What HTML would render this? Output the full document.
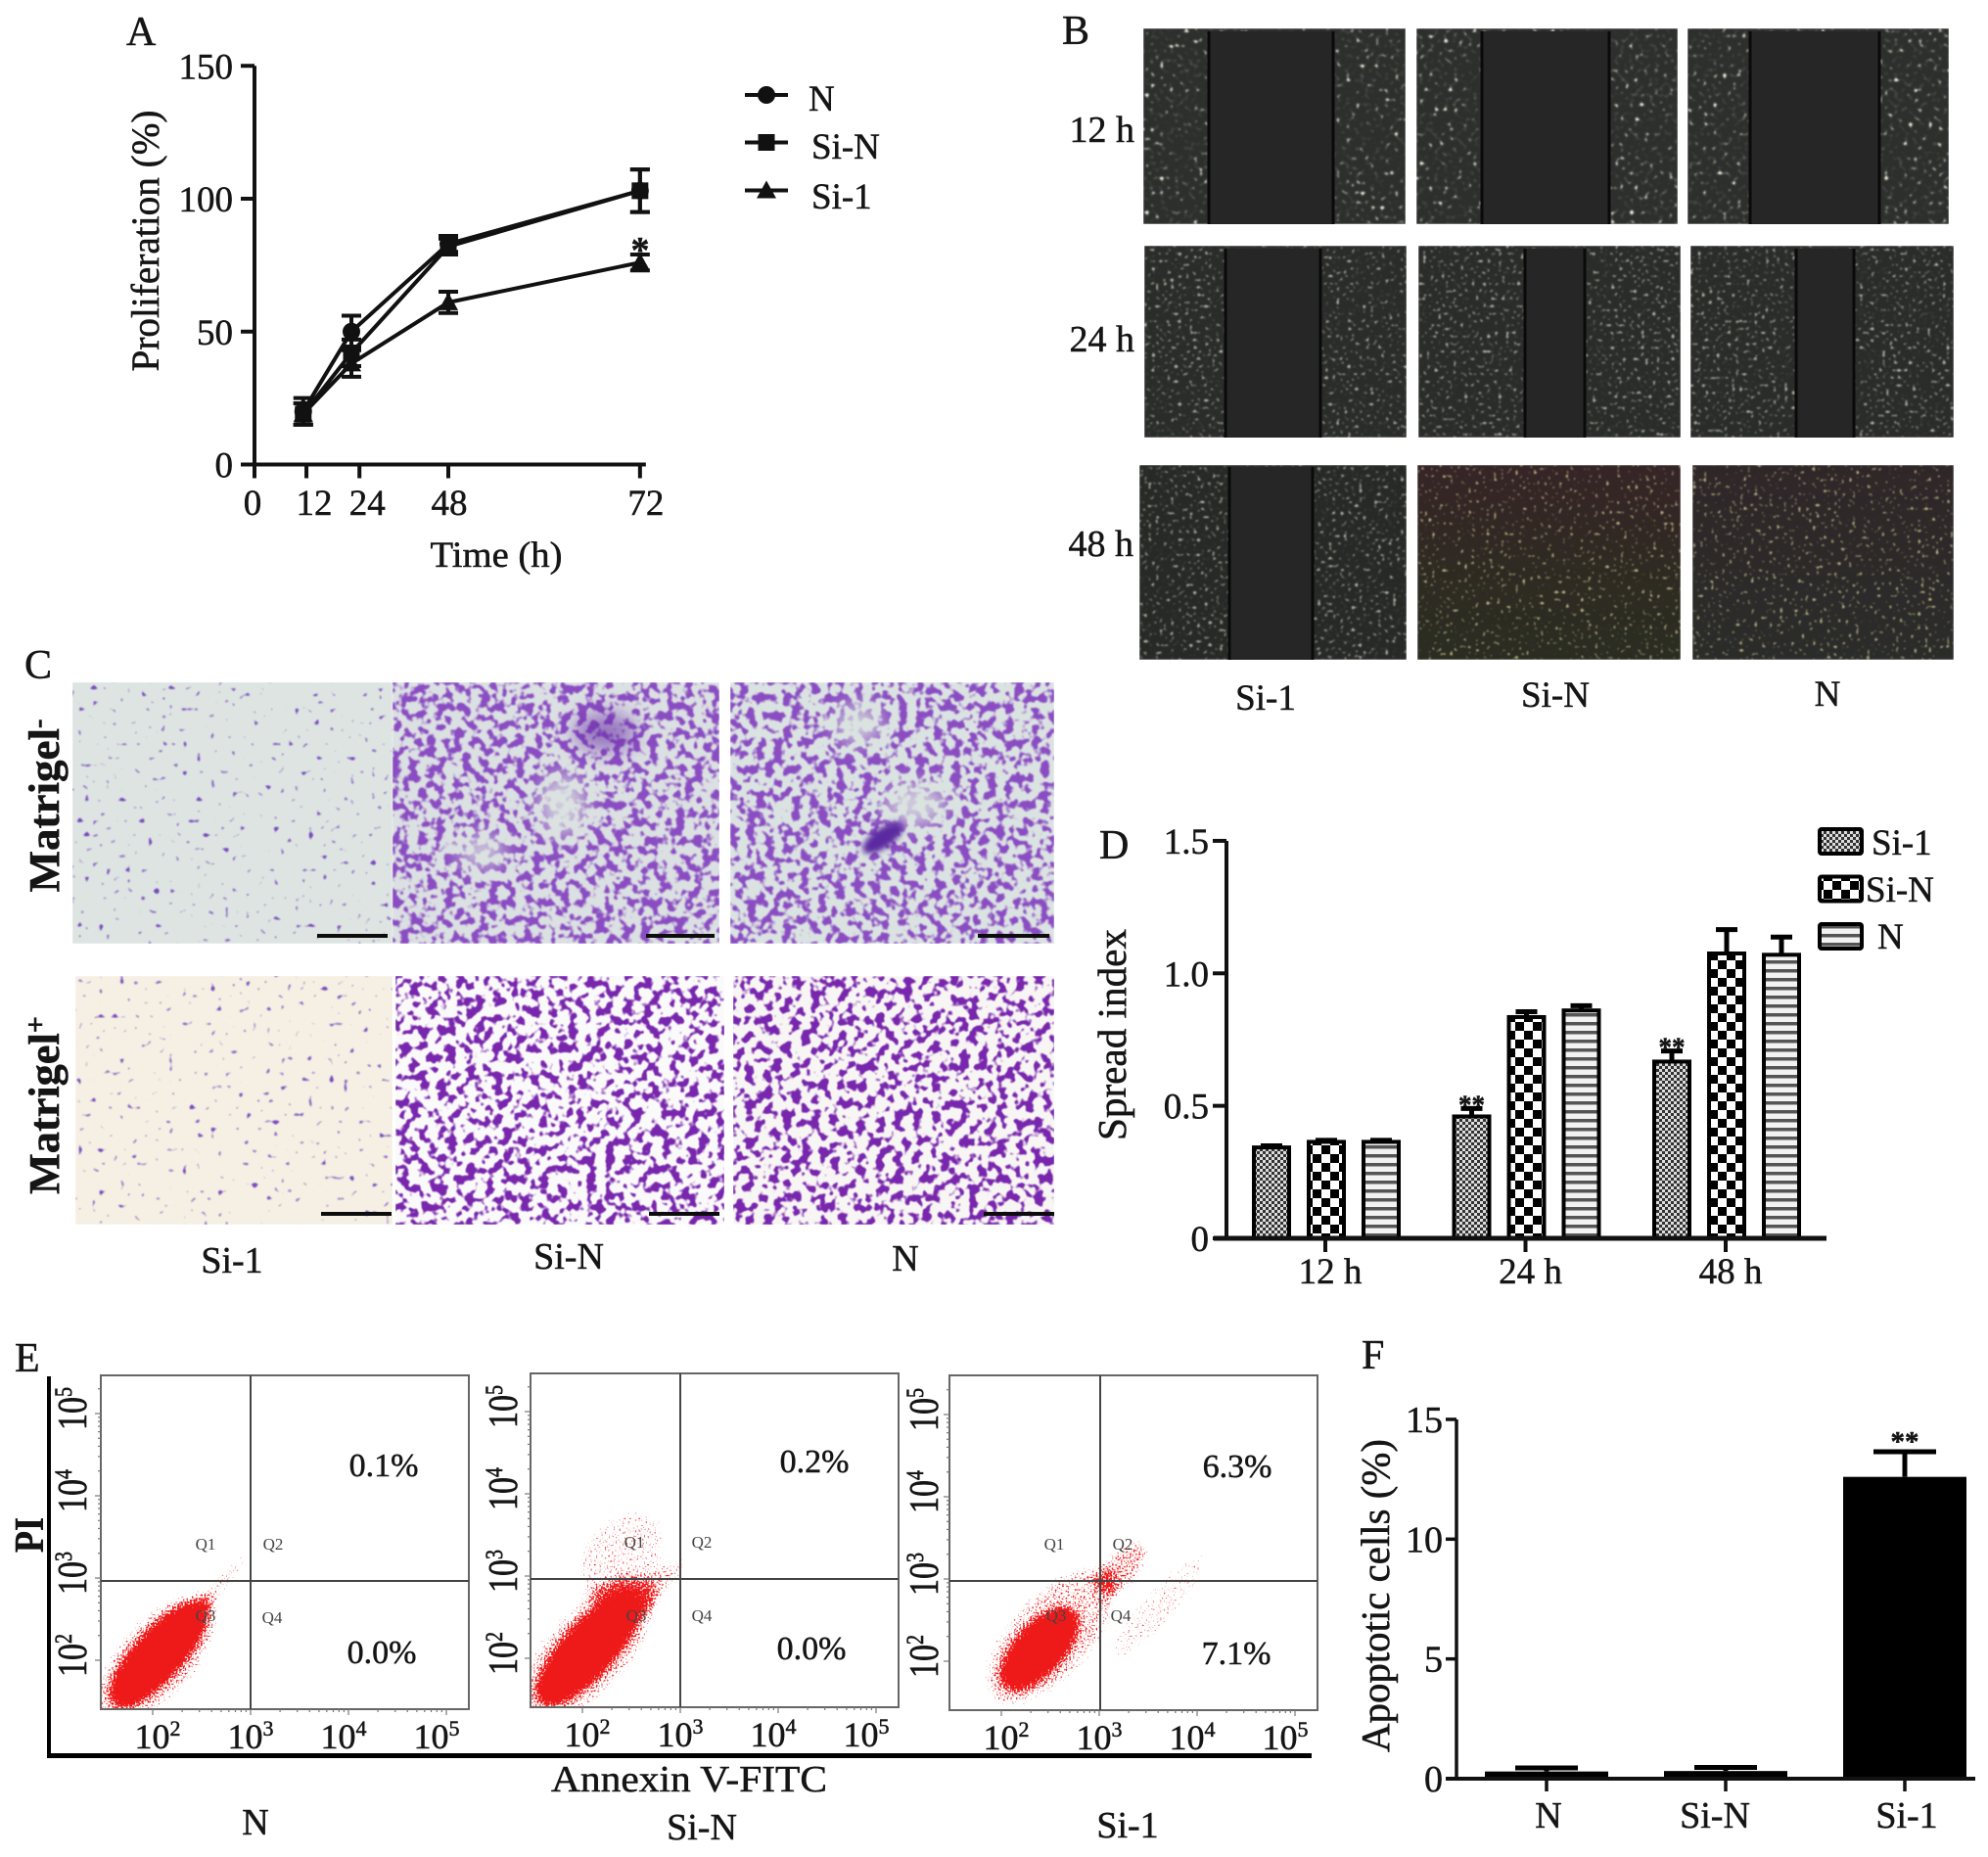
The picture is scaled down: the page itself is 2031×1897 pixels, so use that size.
<!DOCTYPE html>
<html lang="en">
<head>
<meta charset="utf-8">
<title>Multi-panel figure</title>
<style>
html,body{margin:0;padding:0;background:#fff}
svg{display:block}
text{font-family:"Liberation Serif",serif;fill:#151515;stroke:#151515;stroke-width:.5}
</style>
</head>
<body>
<svg id="fig" xmlns="http://www.w3.org/2000/svg" width="2031" height="1897" viewBox="0 0 2031 1897">
<defs>
<filter id="woundSparse" x="0" y="0" width="1" height="1" color-interpolation-filters="sRGB">
<feTurbulence type="fractalNoise" baseFrequency="0.2" numOctaves="1" seed="7" result="n"/>
<feColorMatrix in="n" type="matrix" values="0 0 0 0 .9 0 0 0 0 .9 0 0 0 0 .82 10 0 0 0 -6.7" result="dots"/>
<feColorMatrix in="n" type="matrix" values="0 0 0 0 .55 0 0 0 0 .57 0 0 0 0 .53 1.6 0 0 0 -.85" result="haze"/>
<feMerge result="m"><feMergeNode in="SourceGraphic"/><feMergeNode in="haze"/><feMergeNode in="dots"/></feMerge>
<feGaussianBlur in="m" stdDeviation=".8"/>
</filter>
<filter id="woundDense" x="0" y="0" width="1" height="1" color-interpolation-filters="sRGB">
<feTurbulence type="fractalNoise" baseFrequency="0.26" numOctaves="1" seed="11" result="n"/>
<feColorMatrix in="n" type="matrix" values="0 0 0 0 .7 0 0 0 0 .7 0 0 0 0 .64 9 0 0 0 -5.8" result="dots"/>
<feColorMatrix in="n" type="matrix" values="0 0 0 0 .45 0 0 0 0 .46 0 0 0 0 .42 1.6 0 0 0 -.85" result="haze"/>
<feMerge result="m"><feMergeNode in="SourceGraphic"/><feMergeNode in="haze"/><feMergeNode in="dots"/></feMerge>
<feGaussianBlur in="m" stdDeviation=".8"/>
</filter>
<filter id="woundWarm" x="0" y="0" width="1" height="1" color-interpolation-filters="sRGB">
<feTurbulence type="fractalNoise" baseFrequency="0.27" numOctaves="1" seed="19" result="n"/>
<feColorMatrix in="n" type="matrix" values="0 0 0 0 .74 0 0 0 0 .7 0 0 0 0 .52 9 0 0 0 -5.7" result="dots"/>
<feMerge result="m"><feMergeNode in="SourceGraphic"/><feMergeNode in="dots"/></feMerge>
<feGaussianBlur in="m" stdDeviation=".8"/>
</filter>
<filter id="cellsSparse" x="0" y="0" width="1" height="1" color-interpolation-filters="sRGB">
<feTurbulence type="fractalNoise" baseFrequency="0.14" numOctaves="1" seed="5" result="n"/>
<feColorMatrix in="n" type="matrix" values="0 0 0 0 .48 0 0 0 0 .3 0 0 0 0 .75 12 0 0 0 -8.16" result="c"/>
<feMerge result="m"><feMergeNode in="SourceGraphic"/><feMergeNode in="c"/></feMerge>
<feGaussianBlur in="m" stdDeviation=".6"/>
</filter>
<filter id="cellsPale" x="0" y="0" width="1" height="1" color-interpolation-filters="sRGB">
<feTurbulence type="fractalNoise" baseFrequency="0.11" numOctaves="2" seed="3" result="n"/>
<feColorMatrix in="n" type="matrix" values="0 0 0 0 .54 0 0 0 0 .3 0 0 0 0 .76 10 0 0 0 -4.9" result="c"/>
<feMerge result="m"><feMergeNode in="SourceGraphic"/><feMergeNode in="c"/></feMerge>
<feGaussianBlur in="m" stdDeviation=".8"/>
</filter>
<filter id="cellsDeep" x="0" y="0" width="1" height="1" color-interpolation-filters="sRGB">
<feTurbulence type="fractalNoise" baseFrequency="0.105" numOctaves="2" seed="9" result="n"/>
<feColorMatrix in="n" type="matrix" values="0 0 0 0 .47 0 0 0 0 .15 0 0 0 0 .68 12 0 0 0 -6.1" result="c"/>
<feMerge result="m"><feMergeNode in="SourceGraphic"/><feMergeNode in="c"/></feMerge>
<feGaussianBlur in="m" stdDeviation=".6"/>
</filter>
<filter id="soft" x="-50%" y="-50%" width="200%" height="200%"><feGaussianBlur stdDeviation="10"/></filter>
<filter id="soft2" x="-50%" y="-50%" width="200%" height="200%"><feGaussianBlur stdDeviation="3"/></filter>
<filter id="speck" filterUnits="userSpaceOnUse" x="90" y="1395" width="1270" height="365" color-interpolation-filters="sRGB">
<feGaussianBlur in="SourceAlpha" stdDeviation="6" result="d"/>
<feTurbulence type="fractalNoise" baseFrequency="0.55" numOctaves="1" seed="3" result="n"/>
<feColorMatrix in="n" type="matrix" values="0 0 0 0 0 0 0 0 0 0 0 0 0 0 0 1 0 0 0 0" result="na"/>
<feComposite in="na" in2="d" operator="arithmetic" k1="0" k2="1" k3="1.1" k4="-1" result="sum"/>
<feComponentTransfer in="sum" result="hard"><feFuncA type="linear" slope="6" intercept="0"/></feComponentTransfer>
<feFlood flood-color="#ee1a1a"/>
<feComposite in2="hard" operator="in"/>
</filter>
<pattern id="patSi1" patternUnits="userSpaceOnUse" width="6" height="6"><rect width="6" height="6" fill="#ddd"/><rect width="3" height="3" fill="#333"/><rect x="3" y="3" width="3" height="3" fill="#333"/></pattern>
<pattern id="patSiN" patternUnits="userSpaceOnUse" width="18" height="18"><rect width="18" height="18" fill="#fff"/><rect width="9" height="9" fill="#000"/><rect x="9" y="9" width="9" height="9" fill="#000"/></pattern>
<pattern id="patN" patternUnits="userSpaceOnUse" width="9" height="9"><rect width="9" height="9" fill="#f2f2f2"/><rect width="9" height="3.5" fill="#555"/></pattern>
<linearGradient id="warmSiN" x1="0" y1="0" x2="0" y2="1"><stop offset="0" stop-color="#352426"/><stop offset=".55" stop-color="#2e2a22"/><stop offset="1" stop-color="#2a2c22"/></linearGradient>
<linearGradient id="warmN" x1="0" y1="0" x2="0" y2="1"><stop offset="0" stop-color="#2f2628"/><stop offset="1" stop-color="#2a2c2a"/></linearGradient>
<clipPath id="clipE0"><rect x="103" y="1405" width="376" height="341"/></clipPath>
<clipPath id="clipE1"><rect x="542" y="1403" width="376" height="341"/></clipPath>
<clipPath id="clipE2"><rect x="970" y="1405" width="376" height="342"/></clipPath>
</defs>

<rect width="2031" height="1897" fill="#fff"/>

<g id="panelA">
<text x="129" y="46" font-size="42">A</text>
<text transform="translate(162,246) rotate(-90)" text-anchor="middle" font-size="40" textLength="267" lengthAdjust="spacingAndGlyphs">Proliferation (%)</text>
<text x="507" y="579" text-anchor="middle" font-size="37" textLength="135" lengthAdjust="spacingAndGlyphs">Time (h)</text>
<text x="654" y="268" text-anchor="middle" font-size="38" font-weight="bold">*</text>
<g>
<text x="826" y="113" font-size="37">N</text>
<text x="829" y="162" font-size="37">Si-N</text>
<text x="829" y="213" font-size="37">Si-1</text>
</g>
</g>

<g id="panelB">
<text x="1085" y="45" font-size="42">B</text>
<text x="1159" y="145" text-anchor="end" font-size="38">12 h</text>
<text x="1159" y="359" text-anchor="end" font-size="38">24 h</text>
<text x="1158" y="568" text-anchor="end" font-size="38">48 h</text>
<text x="1293" y="725" text-anchor="middle" font-size="37">Si-1</text>
<text x="1589" y="722" text-anchor="middle" font-size="37">Si-N</text>
<text x="1867" y="721" text-anchor="middle" font-size="37">N</text>
<rect x="1168" y="29" width="268" height="200" fill="#2d2f2d" filter="url(#woundSparse)"/>
<rect x="1447" y="29" width="267" height="200" fill="#2d2f2d" filter="url(#woundSparse)"/>
<rect x="1724" y="29" width="267" height="200" fill="#2d2f2d" filter="url(#woundSparse)"/>
<rect x="1169" y="251" width="268" height="196" fill="#2a2c2a" filter="url(#woundDense)"/>
<rect x="1449" y="251" width="268" height="196" fill="#2a2c2a" filter="url(#woundDense)"/>
<rect x="1727" y="251" width="269" height="196" fill="#2a2c2a" filter="url(#woundDense)"/>
<rect x="1164" y="475" width="273" height="199" fill="#272927" filter="url(#woundDense)"/>
<rect x="1448" y="475" width="269" height="199" fill="url(#warmSiN)" filter="url(#woundWarm)"/>
<rect x="1729" y="475" width="267" height="199" fill="url(#warmN)" filter="url(#woundWarm)"/>
<g fill="#252625">
<rect x="1235" y="32" width="127" height="197"/>
<rect x="1514" y="32" width="130" height="197"/>
<rect x="1788" y="32" width="132" height="197"/>
<rect x="1252" y="254" width="97" height="193"/>
<rect x="1558" y="254" width="61" height="193"/>
<rect x="1835" y="254" width="59" height="193"/>
<rect x="1256" y="477" width="85" height="197"/>
</g>
<path fill="none" stroke="#0a0a0a" stroke-width="3" d="M1235 32V229M1362 32V229M1514 32V229M1644 32V229M1788 32V229M1920 32V229M1252 254V447M1349 254V447M1558 254V447M1619 254V447M1835 254V447M1894 254V447M1256 477V674M1341 477V674"/>
</g>

<g id="panelC">
<text x="25" y="693" font-size="42">C</text>
<text transform="translate(60,823) rotate(-90)" text-anchor="middle" font-size="44" font-weight="bold" textLength="177" lengthAdjust="spacingAndGlyphs">Matrigel<tspan dy="-12" font-size="28">-</tspan></text>
<text transform="translate(60,1129) rotate(-90)" text-anchor="middle" font-size="44" font-weight="bold" textLength="182" lengthAdjust="spacingAndGlyphs">Matrigel<tspan dy="-14" font-size="30">+</tspan></text>
<text x="237" y="1300" text-anchor="middle" font-size="38">Si-1</text>
<text x="581" y="1296" text-anchor="middle" font-size="38">Si-N</text>
<text x="925" y="1298" text-anchor="middle" font-size="38">N</text>
<rect x="74" y="697" width="327" height="267" fill="#dde4e1" filter="url(#cellsSparse)"/>
<rect x="401" y="697" width="334" height="267" fill="#dbe0e2" filter="url(#cellsPale)"/>
<rect x="746" y="697" width="331" height="267" fill="#dbe3e2" filter="url(#cellsPale)"/>
<rect x="77" y="997" width="324" height="254" fill="#f5f0e3" filter="url(#cellsSparse)"/>
<rect x="404" y="997" width="336" height="254" fill="#fbfafa" filter="url(#cellsDeep)"/>
<rect x="749" y="997" width="328" height="254" fill="#f8f6f4" filter="url(#cellsDeep)"/>
<g filter="url(#soft)">
<ellipse cx="575" cy="822" rx="24" ry="32" fill="#dbe3e0" opacity=".85"/>
<ellipse cx="492" cy="870" rx="24" ry="16" fill="#dbe3e0" opacity=".85"/>
<ellipse cx="935" cy="822" rx="32" ry="22" fill="#dbe3e0" opacity=".85"/>
<ellipse cx="877" cy="740" rx="24" ry="20" fill="#dbe3e0" opacity=".85"/>
<ellipse cx="618" cy="748" rx="32" ry="20" fill="#6a2ea8" opacity=".6"/>
</g>
<ellipse cx="902" cy="856" rx="24" ry="10" transform="rotate(-35 902 856)" fill="#5b2aa0" filter="url(#soft2)"/>
<g fill="#0d0d0d">
<rect x="324" y="954" width="72" height="4"/>
<rect x="660" y="954" width="70" height="4"/>
<rect x="999" y="954" width="73" height="4"/>
<rect x="328" y="1238" width="72" height="4"/>
<rect x="663" y="1238" width="72" height="4"/>
<rect x="1005" y="1238" width="72" height="4"/>
</g>
</g>

<g id="panelD">
<text x="1123" y="877" font-size="42">D</text>
<text transform="translate(1150,1057) rotate(-90)" text-anchor="middle" font-size="41" textLength="216" lengthAdjust="spacingAndGlyphs">Spread index</text>
</g>

<g id="panelE">
<text x="15" y="1401" font-size="42">E</text>
<text transform="translate(44,1568) rotate(-90)" text-anchor="middle" font-size="42" font-weight="bold" textLength="36" lengthAdjust="spacingAndGlyphs">PI</text>
<text x="704" y="1830" text-anchor="middle" font-size="38" textLength="282" lengthAdjust="spacingAndGlyphs">Annexin V-FITC</text>
<text x="261" y="1874" text-anchor="middle" font-size="38">N</text>
<text x="717" y="1879" text-anchor="middle" font-size="38">Si-N</text>
<text x="1152" y="1877" text-anchor="middle" font-size="38">Si-1</text>
<rect x="48" y="1406" width="4" height="390" fill="#000"/>
<rect x="48" y="1791" width="1292" height="5" fill="#000"/>
</g>

<g id="panelF">
<text x="1391" y="1398" font-size="42">F</text>
<text transform="translate(1419,1630) rotate(-90)" text-anchor="middle" font-size="41" textLength="320" lengthAdjust="spacingAndGlyphs">Apoptotic cells (%)</text>
</g>
</svg>

<script>
/* Panel A: proliferation line chart */
const lineTickHours = [0, 9.7, 19.6, 36.2, 72];
const lineTickLabels = ['0', '12', '24', '48', '72'];
const lineYTicks = [0, 50, 100, 150];
const lineHours = [9.1, 18.1, 36.2, 72];
const lineSeriesN = [20, 50, 83, 103];
const lineErrN = [5, 6, 3, 8];
const lineSeriesSiN = [19, 42, 82, 103];
const lineErrSiN = [4, 5, 3, 8];
const lineSeriesSi1 = [19, 38, 61, 76];
const lineErrSi1 = [4, 5, 4, 3];

/* Panel D: spread index bars */
const spreadCategories = ['12 h', '24 h', '48 h'];
const spreadSi1 = [0.343, 0.46, 0.667];
const spreadSi1Err = [0.006, 0.03, 0.04];
const spreadSiN = [0.364, 0.835, 1.075];
const spreadSiNErr = [0.006, 0.02, 0.09];
const spreadN = [0.364, 0.86, 1.07];
const spreadNErr = [0.006, 0.018, 0.067];
const spreadYTicks = [0, 0.5, 1.0, 1.5];
const spreadYLabels = ['0', '0.5', '1.0', '1.5'];
const spreadLegend = ['Si-1', 'Si-N', 'N'];

/* Panel F: apoptosis bars */
const apoptosisCategories = ['N', 'Si-N', 'Si-1'];
const apoptosisValues = [0.3, 0.32, 12.6];
const apoptosisErr = [0.15, 0.15, 1.05];
const apoptosisYTicks = [0, 5, 10, 15];

/* Panel E: flow cytometry density regions, in log10 units:
   [annexin, PI, long half-axis, short half-axis, density] */
const flowCloudN = [[2.04, 2.02, 0.85, 0.42, 0.42], [2.06, 2.07, 0.66, 0.22, 1], [2.72, 2.95, 0.42, 0.1, 0.4]];
const flowCloudSiN = [[2.05, 2.08, 0.95, 0.45, 0.42], [2.07, 2.12, 0.72, 0.24, 1], [2.4, 3.25, 0.55, 0.4, 0.36], [2.8, 2.9, 0.4, 0.12, 0.42]];
const flowCloudSi1 = [[2.5, 2.3, 0.9, 0.45, 0.42], [2.39, 2.15, 0.5, 0.22, 1], [3.25, 3.15, 0.35, 0.2, 0.46], [3.6, 2.65, 0.75, 0.22, 0.34]];
const flowUpperRight = ['0.1%', '0.2%', '6.3%'];
const flowLowerRight = ['0.0%', '0.0%', '7.1%'];
const flowDecades = [2, 3, 4, 5];

const NS = 'http://www.w3.org/2000/svg';
function mk(tag, attrs, parent) {
  const el = document.createElementNS(NS, tag);
  for (const k in attrs) el.setAttribute(k, attrs[k]);
  parent.appendChild(el);
  return el;
}

/* ---------- Panel A ---------- */
const panelA = document.getElementById('panelA');
const xA = h => 260 + h * 5.47;
const yA = v => 474.5 - v * 2.715;
const axisA = mk('path', {d: `M${xA(0)} ${yA(150)}V${yA(0)}H${xA(72) + 6}`, fill: 'none', stroke: '#111', 'stroke-width': 4}, panelA);


lineYTicks.forEach(v => {
  const t = mk('line', {x1: xA(0) - 14, x2: xA(0), y1: yA(v), y2: yA(v), stroke: '#111', 'stroke-width': 4}, panelA);
  
  
  const l = mk('text', {x: 238, y: yA(v) + 13, 'text-anchor': 'end', 'font-size': 37}, panelA);
  
  
  l.textContent = v;
});
lineTickHours.forEach((h, i) => {
  const t = mk('line', {x1: xA(h), x2: xA(h), y1: yA(0), y2: yA(0) + 14, stroke: '#111', 'stroke-width': 4}, panelA);
  
  
  const off = i === 0 ? -2 : i === 4 ? 6 : i === 3 ? 1 : 8;
  const l = mk('text', {x: xA(h) + off, y: 526, 'text-anchor': 'middle', 'font-size': 37}, panelA);
  
  
  l.textContent = lineTickLabels[i];
});
function marker(kind, cx, cy, parent) {
  if (kind === 'circle') return mk('circle', {cx: cx, cy: cy, r: 9, fill: '#111'}, parent);
  if (kind === 'square') return mk('rect', {x: cx - 8.5, y: cy - 8.5, width: 17, height: 17, fill: '#111'}, parent);
  return mk('path', {d: `M${cx} ${cy - 10}L${cx + 10} ${cy + 8}H${cx - 10}Z`, fill: '#111'}, parent);
}
[['si-1', lineSeriesSi1, lineErrSi1, 'triangle'], ['si-n', lineSeriesSiN, lineErrSiN, 'square'], ['n', lineSeriesN, lineErrN, 'circle']].forEach(s => {
  const g = mk('g', {}, panelA);
  
  
  const pts = s[1].map((v, i) => xA(lineHours[i]) + ',' + yA(v)).join(' ');
  const pl = mk('polyline', {points: pts, fill: 'none', stroke: '#111', 'stroke-width': 4}, g);
  
  
  s[1].forEach((v, i) => {
    const x = xA(lineHours[i]);
    const hi = yA(v + s[2][i]);
    const lo = yA(v - s[2][i]);
    const e = mk('path', {d: `M${x - 10} ${hi}H${x + 10}M${x} ${hi}V${lo}M${x - 10} ${lo}H${x + 10}`, fill: 'none', stroke: '#111', 'stroke-width': 4}, g);
    
    
    const m = marker(s[3], x, yA(v), g);
    
    
  });
});
[['circle', 97], ['square', 145.5], ['triangle', 194.5]].forEach(d => {
  const ln = mk('line', {x1: 761, x2: 805, y1: d[1], y2: d[1], stroke: '#111', 'stroke-width': 4}, panelA);
  
  
  const m = marker(d[0], 783, d[1], panelA);
  
  
});

/* ---------- Panel D ---------- */
const panelD = document.getElementById('panelD');
const yD = v => 1265 - v * 270.7;
const xD = (g, s) => 1299 + g * 204.5 + s * 56;
const axisDy = mk('line', {x1: 1253, x2: 1253, y1: yD(1.5), y2: yD(0), stroke: '#111', 'stroke-width': 4}, panelD);


spreadYTicks.forEach((v, i) => {
  const t = mk('line', {x1: 1239, x2: 1253, y1: yD(v), y2: yD(v), stroke: '#111', 'stroke-width': 4}, panelD);
  
  
  const l = mk('text', {x: 1235, y: yD(v) + 13, 'text-anchor': 'end', 'font-size': 37}, panelD);
  
  
  l.textContent = spreadYLabels[i];
});
[[spreadSi1, spreadSi1Err, 'patSi1', 'si-1'], [spreadSiN, spreadSiNErr, 'patSiN', 'si-n'], [spreadN, spreadNErr, 'patN', 'n']].forEach((s, si) => {
  spreadCategories.forEach((c, g) => {
    const cx = xD(g, si);
    const e = mk('path', {d: `M${cx} ${yD(s[0][g])}V${yD(s[0][g] + s[1][g])}M${cx - 11} ${yD(s[0][g] + s[1][g])}H${cx + 11}`, fill: 'none', stroke: '#000', 'stroke-width': 5}, panelD);
    
    
    const b = mk('rect', {x: cx - 18, y: yD(s[0][g]), width: 36, height: yD(0) - yD(s[0][g]), fill: `url(#${s[2]})`, stroke: '#000', 'stroke-width': 4}, panelD);
    
    
  });
});
const axisDx = mk('line', {x1: 1240, x2: 1866, y1: yD(0), y2: yD(0), stroke: '#111', 'stroke-width': 5}, panelD);


spreadCategories.forEach((c, g) => {
  const t = mk('line', {x1: xD(g, 1) - 1, x2: xD(g, 1) - 1, y1: yD(0), y2: yD(0) + 14, stroke: '#111', 'stroke-width': 4}, panelD);
  
  
  const l = mk('text', {x: xD(g, 1) + 4, y: 1311, 'text-anchor': 'middle', 'font-size': 37}, panelD);
  
  
  l.textContent = c;
});
[0, 1, 2].forEach(i => {
  const by = 847 + i * 48.5;
  const lb = mk('rect', {x: 1859, y: by, width: 43, height: 25, fill: `url(#${['patSi1', 'patSiN', 'patN'][i]})`, stroke: '#000', 'stroke-width': 4, rx: 2}, panelD);
  
  
  const lt = mk('text', {x: [1912, 1906, 1918][i], y: 873 + i * 48, 'font-size': 37}, panelD);
  
  
  lt.textContent = spreadLegend[i];
});
[1, 2].forEach(g => {
  const st = mk('text', {x: xD(g, 0), y: yD(spreadSi1[g] + spreadSi1Err[g]) + 5, 'text-anchor': 'middle', 'font-size': 27, 'font-weight': 'bold'}, panelD);
  
  
  st.textContent = '**';
});

/* ---------- Panel E ---------- */
const panelE = document.getElementById('panelE');
const flowPlots = [
  {key: 'n', cloud: flowCloudN, left: 103, top: 1405, right: 479, bottom: 1746, qx: 256, qy: 1615, tx: 88, pct: [392, 1508, 390, 1699], q: [210, 1583, 279, 1583, 210, 1656, 278, 1658]},
  {key: 'si-n', cloud: flowCloudSiN, left: 542, top: 1403, right: 918, bottom: 1744, qx: 695, qy: 1613, tx: 528, pct: [832, 1504, 829, 1695], q: [648, 1581, 717, 1581, 650, 1656, 717, 1656]},
  {key: 'si-1', cloud: flowCloudSi1, left: 970, top: 1405, right: 1346, bottom: 1747, qx: 1124, qy: 1615, tx: 958, pct: [1264, 1509, 1263, 1700], q: [1077, 1583, 1147, 1583, 1079, 1656, 1145, 1656]}
];
flowPlots.forEach((p, pi) => {
  const xF = d => p.left + 53 + (d - 2) * 100;
  const yF = d => p.bottom - 50 - (d - 2) * 84;
  const g = mk('g', {}, panelE);
  
  
  const clip = mk('g', {'clip-path': `url(#clipE${pi})`}, g);
  
  
  const cloud = mk('g', {filter: 'url(#speck)'}, clip);
  
  
  p.cloud.forEach(c => {
    const cx = xF(c[0]);
    const cy = yF(c[1]);
    const el = mk('ellipse', {cx: cx, cy: cy, rx: c[2] * 100, ry: c[3] * 100, transform: `rotate(-48 ${cx} ${cy})`, fill: '#000', 'fill-opacity': c[4]}, cloud);
    
    
  });
  const box = mk('rect', {x: p.left, y: p.top, width: p.right - p.left, height: p.bottom - p.top, fill: 'none', stroke: '#666', 'stroke-width': 2}, g);
  
  
  const gv = mk('line', {x1: p.qx, x2: p.qx, y1: p.top, y2: p.bottom, stroke: '#444', 'stroke-width': 2}, g);
  
  
  const gh = mk('line', {x1: p.left, x2: p.right, y1: p.qy, y2: p.qy, stroke: '#444', 'stroke-width': 2}, g);
  
  
  flowDecades.forEach((d, i) => {
    for (let k = 1; k < 10; k++) {
      const lg = d + Math.log10(k);
      const len = k === 1 ? 6 : 3;
      if (xF(lg) < p.right) {
        const tx = mk('line', {x1: xF(lg), x2: xF(lg), y1: p.bottom, y2: p.bottom + len, stroke: '#777', 'stroke-width': 1.2}, g);
        
        
      }
      if (yF(lg) > p.top) {
        const ty = mk('line', {x1: p.left - len, x2: p.left, y1: yF(lg), y2: yF(lg), stroke: '#777', 'stroke-width': 1.2}, g);
        
        
      }
    }
    const lx = mk('text', {x: p.left + 58 + i * 95, y: p.bottom + 40, 'text-anchor': 'middle', 'font-size': 36}, g);
    
    
    lx.textContent = '10';
    const sx = mk('tspan', {dy: -13, 'font-size': 22}, lx);
    sx.textContent = d;
    const ly = mk('text', {transform: `translate(${p.tx},${p.bottom - 55 - i * 84}) rotate(-90) scale(1,1.25)`, 'text-anchor': 'middle', 'font-size': 34}, g);
    
    
    ly.textContent = '10';
    const sy = mk('tspan', {dy: -12, 'font-size': 20}, ly);
    sy.textContent = d;
  });
  ['Q1', 'Q2', 'Q3', 'Q4'].forEach((q, i) => {
    const t = mk('text', {x: p.q[i * 2], y: p.q[i * 2 + 1], 'text-anchor': 'middle', 'font-size': 17, style: 'fill:#444;stroke:none'}, g);
    
    
    t.textContent = q;
  });
  const up = mk('text', {x: p.pct[0], y: p.pct[1], 'text-anchor': 'middle', 'font-size': 34}, g);
  
  
  up.textContent = flowUpperRight[pi];
  const low = mk('text', {x: p.pct[2], y: p.pct[3], 'text-anchor': 'middle', 'font-size': 34}, g);
  
  
  low.textContent = flowLowerRight[pi];
});

/* ---------- Panel F ---------- */
const panelF = document.getElementById('panelF');
const yFv = v => 1817 - v * 24.47;
const xFc = i => 1580 + i * 183;
const axisFy = mk('line', {x1: 1488, x2: 1488, y1: yFv(15), y2: yFv(0), stroke: '#111', 'stroke-width': 3.5}, panelF);


apoptosisYTicks.forEach(v => {
  const t = mk('line', {x1: 1477, x2: 1488, y1: yFv(v), y2: yFv(v), stroke: '#111', 'stroke-width': 3.5}, panelF);
  
  
  const l = mk('text', {x: 1474, y: yFv(v) + 13, 'text-anchor': 'end', 'font-size': 38}, panelF);
  
  
  l.textContent = v;
});
apoptosisCategories.forEach((c, i) => {
  const cx = xFc(i);
  const e = mk('path', {d: `M${cx} ${yFv(apoptosisValues[i])}V${yFv(apoptosisValues[i] + apoptosisErr[i])}M${cx - 32} ${yFv(apoptosisValues[i] + apoptosisErr[i])}H${cx + 32}`, fill: 'none', stroke: '#000', 'stroke-width': 5}, panelF);
  
  
  const b = mk('rect', {x: cx - 63, y: yFv(apoptosisValues[i]), width: 126, height: yFv(0) - yFv(apoptosisValues[i]), fill: '#000'}, panelF);
  
  
  const t = mk('line', {x1: cx, x2: cx, y1: yFv(0), y2: yFv(0) + 13, stroke: '#111', 'stroke-width': 3.5}, panelF);
  
  
  const l = mk('text', {x: cx + (i === 1 ? -11 : 2), y: 1867, 'text-anchor': 'middle', 'font-size': 38}, panelF);
  
  
  l.textContent = c;
});
const axisFx = mk('line', {x1: 1477, x2: 2018, y1: yFv(0), y2: yFv(0), stroke: '#111', 'stroke-width': 4}, panelF);


const starsF = mk('text', {x: xFc(2), y: yFv(apoptosisValues[2] + apoptosisErr[2]) - 1, 'text-anchor': 'middle', 'font-size': 29, 'font-weight': 'bold'}, panelF);


starsF.textContent = '**';
</script>
</body>
</html>
